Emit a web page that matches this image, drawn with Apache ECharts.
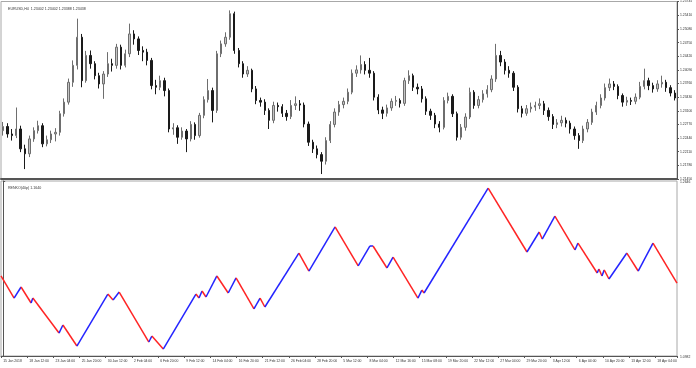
<!DOCTYPE html>
<html><head><meta charset="utf-8">
<script src="https://cdn.jsdelivr.net/npm/echarts@6/dist/echarts.min.js"></script>
<style>html,body{margin:0;padding:0;background:#fff}#c{width:696px;height:368px}</style>
</head><body><div id="c"></div>
<script>
const symbolTitle = 'EURUSD,H4  1.23402 1.23402 1.23388 1.23438';
const renkoTitle = 'RENKO(40p) 1.1640';
const timeLabels = ['15 Jan 2018','18 Jan 12:00','23 Jan 04:00','25 Jan 20:00','30 Jan 12:00','2 Feb 04:00','6 Feb 20:00','9 Feb 12:00','14 Feb 04:00','16 Feb 20:00','21 Feb 12:00','26 Feb 04:00','28 Feb 20:00','5 Mar 12:00','8 Mar 04:00','12 Mar 16:00','15 Mar 08:00','19 Mar 20:00','22 Mar 12:00','27 Mar 04:00','29 Mar 20:00','3 Apr 12:00','6 Apr 04:00','10 Apr 20:00','13 Apr 12:00','18 Apr 04:00'];
const priceTicks = [1.2145,1.2178,1.2211,1.2244,1.2277,1.2310,1.2343,1.2376,1.2409,1.2442,1.2475,1.2508,1.2541,1.25745];
const renkoTicks = [1.0982,1.2646];
// [open, close, low, high]
const ohlc = [
[1.2262,1.2272,1.2250,1.2283],[1.2272,1.2254,1.2245,1.2280],[1.2254,1.2250,1.2238,1.2266],[1.2250,1.2266,1.2244,1.2318],
[1.2266,1.2218,1.2210,1.2274],[1.2218,1.2206,1.2169,1.2228],[1.2206,1.2242,1.2198,1.2250],[1.2242,1.2262,1.2235,1.2270],
[1.2262,1.2274,1.2255,1.2286],[1.2274,1.2230,1.2222,1.2280],[1.2230,1.2240,1.2224,1.2250],[1.2240,1.2254,1.2232,1.2262],
[1.2254,1.2258,1.2236,1.2268],[1.2258,1.2303,1.2250,1.2310],[1.2303,1.2331,1.2296,1.2340],[1.2331,1.2379,1.2325,1.2388],
[1.2379,1.2420,1.2368,1.2432],[1.2420,1.2488,1.2410,1.2533],[1.2488,1.2383,1.2367,1.2496],[1.2383,1.2444,1.2378,1.2455],
[1.2444,1.2424,1.2412,1.2456],[1.2424,1.2395,1.2386,1.2430],[1.2395,1.2375,1.2364,1.2402],[1.2375,1.2399,1.2339,1.2406],
[1.2399,1.2424,1.2392,1.2452],[1.2424,1.2420,1.2405,1.2436],[1.2420,1.2464,1.2412,1.2472],[1.2464,1.2420,1.2410,1.2470],
[1.2420,1.2448,1.2415,1.2458],[1.2448,1.2496,1.2440,1.2521],[1.2496,1.2484,1.2470,1.2505],[1.2484,1.2456,1.2445,1.2490],
[1.2456,1.2452,1.2430,1.2466],[1.2452,1.2432,1.2420,1.2460],[1.2432,1.2371,1.2362,1.2438],[1.2371,1.2367,1.2350,1.2385],
[1.2367,1.2383,1.2360,1.2395],[1.2383,1.2359,1.2345,1.2390],[1.2359,1.2266,1.2258,1.2364],[1.2266,1.2269,1.2252,1.2280],
[1.2269,1.2246,1.2230,1.2275],[1.2246,1.2261,1.2240,1.2270],[1.2261,1.2242,1.2210,1.2266],[1.2242,1.2277,1.2236,1.2285],
[1.2277,1.2250,1.2240,1.2282],[1.2250,1.2299,1.2245,1.2305],[1.2299,1.2337,1.2292,1.2345],[1.2337,1.2359,1.2330,1.2387],
[1.2359,1.2311,1.2282,1.2366],[1.2311,1.2448,1.2305,1.2455],[1.2448,1.2472,1.2440,1.2480],[1.2472,1.2488,1.2465,1.2500],
[1.2488,1.2545,1.2482,1.2553],[1.2545,1.2456,1.2448,1.2550],[1.2456,1.2424,1.2415,1.2462],[1.2424,1.2399,1.2390,1.2430],
[1.2399,1.2408,1.2392,1.2418],[1.2408,1.2363,1.2355,1.2412],[1.2363,1.2335,1.2326,1.2370],[1.2335,1.2331,1.2320,1.2342],
[1.2331,1.2311,1.2300,1.2338],[1.2311,1.2287,1.2266,1.2316],[1.2287,1.2323,1.2280,1.2332],[1.2323,1.2320,1.2308,1.2330],
[1.2320,1.2304,1.2295,1.2326],[1.2304,1.2296,1.2286,1.2312],[1.2296,1.2323,1.2290,1.2336],[1.2323,1.2327,1.2312,1.2345],
[1.2327,1.2324,1.2310,1.2336],[1.2324,1.2278,1.2270,1.2330],[1.2278,1.2234,1.2225,1.2284],[1.2234,1.2218,1.2208,1.2240],
[1.2218,1.2204,1.2195,1.2226],[1.2204,1.2188,1.2157,1.2210],[1.2188,1.2238,1.2180,1.2246],[1.2238,1.2277,1.2232,1.2285],
[1.2277,1.2307,1.2270,1.2316],[1.2307,1.2325,1.2298,1.2334],[1.2325,1.2333,1.2316,1.2342],[1.2333,1.2355,1.2326,1.2364],
[1.2355,1.2401,1.2350,1.2410],[1.2401,1.2409,1.2392,1.2420],[1.2409,1.2422,1.2400,1.2444],[1.2422,1.2408,1.2398,1.2430],
[1.2408,1.2401,1.2390,1.2438],[1.2401,1.2343,1.2335,1.2406],[1.2343,1.2312,1.2302,1.2350],[1.2312,1.2304,1.2290,1.2320],
[1.2304,1.2317,1.2296,1.2325],[1.2317,1.2333,1.2310,1.2340],[1.2333,1.2335,1.2322,1.2346],[1.2335,1.2328,1.2318,1.2340],
[1.2328,1.2383,1.2322,1.2390],[1.2383,1.2395,1.2375,1.2408],[1.2395,1.2367,1.2358,1.2400],[1.2367,1.2363,1.2350,1.2376],
[1.2363,1.2339,1.2330,1.2370],[1.2339,1.2309,1.2300,1.2345],[1.2309,1.2299,1.2288,1.2315],[1.2299,1.2278,1.2268,1.2305],
[1.2278,1.2270,1.2258,1.2285],[1.2270,1.2335,1.2265,1.2343],[1.2335,1.2345,1.2328,1.2354],[1.2345,1.2303,1.2295,1.2350],
[1.2303,1.2246,1.2238,1.2308],[1.2246,1.2270,1.2240,1.2278],[1.2270,1.2295,1.2262,1.2304],[1.2295,1.2355,1.2290,1.2366],
[1.2355,1.2323,1.2315,1.2360],[1.2323,1.2337,1.2316,1.2346],[1.2337,1.2351,1.2330,1.2360],[1.2351,1.2361,1.2342,1.2372],
[1.2361,1.2387,1.2355,1.2396],[1.2387,1.2444,1.2380,1.2472],[1.2444,1.2428,1.2418,1.2455],[1.2428,1.2408,1.2398,1.2435],
[1.2408,1.2401,1.2390,1.2418],[1.2401,1.2367,1.2358,1.2406],[1.2367,1.2315,1.2306,1.2372],[1.2315,1.2304,1.2294,1.2322],
[1.2304,1.2315,1.2298,1.2324],[1.2315,1.2319,1.2306,1.2330],[1.2319,1.2323,1.2310,1.2332],[1.2323,1.2327,1.2314,1.2340],
[1.2327,1.2311,1.2300,1.2334],[1.2311,1.2296,1.2286,1.2318],[1.2296,1.2277,1.2266,1.2302],[1.2277,1.2281,1.2268,1.2290],
[1.2281,1.2287,1.2272,1.2298],[1.2287,1.2280,1.2270,1.2294],[1.2280,1.2266,1.2255,1.2286],[1.2266,1.2250,1.2240,1.2272],
[1.2250,1.2238,1.2218,1.2256],[1.2238,1.2266,1.2232,1.2274],[1.2266,1.2282,1.2258,1.2290],[1.2282,1.2307,1.2276,1.2315],
[1.2307,1.2323,1.2300,1.2332],[1.2323,1.2341,1.2316,1.2350],[1.2341,1.2366,1.2335,1.2376],[1.2366,1.2375,1.2358,1.2388],
[1.2375,1.2369,1.2360,1.2382],[1.2369,1.2347,1.2338,1.2374],[1.2347,1.2331,1.2320,1.2352],[1.2331,1.2335,1.2322,1.2344],
[1.2335,1.2333,1.2324,1.2342],[1.2333,1.2343,1.2326,1.2352],[1.2343,1.2369,1.2338,1.2380],[1.2369,1.2383,1.2362,1.2412],
[1.2383,1.2371,1.2360,1.2390],[1.2371,1.2363,1.2354,1.2378],[1.2363,1.2375,1.2356,1.2384],[1.2375,1.2379,1.2366,1.2395],
[1.2379,1.2366,1.2356,1.2385],[1.2366,1.2353,1.2345,1.2372],[1.2353,1.2341,1.2335,1.2360]
];
// renko turning points: position in bars, value
const renkoX = [-0.5,2.5,4.1,6.4,6.8,12.8,13.7,16.9,24.0,25.2,26.6,33.4,34.1,36.7,44.2,44.9,45.6,46.5,49.0,51.6,53.4,57.5,58.9,60.0,67.8,70.1,76.1,81.4,84.1,84.8,88.0,89.4,95.1,96.0,96.5,111.2,120.1,122.9,123.6,126.5,131.1,131.8,136.2,136.6,137.3,137.8,138.9,143.0,145.6,149.0,154.5];
const renkoY = [1.1743,1.1533,1.1638,1.1486,1.1533,1.1200,1.1277,1.1077,1.1571,1.1514,1.1590,1.1115,1.1172,1.1048,1.1571,1.1533,1.1600,1.1543,1.1743,1.1581,1.1724,1.1429,1.1533,1.1448,1.1961,1.1790,1.2209,1.1838,1.2028,1.2028,1.1819,1.1923,1.1533,1.1609,1.1581,1.2579,1.1971,1.2161,1.2094,1.2313,1.1990,1.2056,1.1771,1.1809,1.1743,1.1800,1.1714,1.1961,1.1790,1.2056,1.1676];

const FONT = 'Liberation Sans';
const cats = ohlc.map((_, i) => String(i));
const txt = {fontSize: 3.4, color: '#333', fontFamily: FONT};

const renkoSeries = [];
for (let k = 0; k < renkoX.length - 1; k++) {
  const up = renkoY[k + 1] >= renkoY[k];
  renkoSeries.push({
    type: 'line', xAxisIndex: 2, yAxisIndex: 1, symbol: 'none', silent: true,
    data: [[renkoX[k], renkoY[k]], [renkoX[k + 1], renkoY[k + 1]]],
    lineStyle: {color: up ? '#2424ff' : '#ff2424', width: 1.5}
  });
}

const chart = echarts.init(document.getElementById('c'), null, {renderer: 'canvas'});
chart.setOption({
  animation: false,
  backgroundColor: '#ffffff',
  textStyle: {fontFamily: FONT},
  title: [
    {text: symbolTitle, left: 3, top: 2, textStyle: Object.assign({fontWeight: 'normal'}, txt, {fontSize: 3.6})},
    {text: renkoTitle, left: 3, top: 181, textStyle: Object.assign({fontWeight: 'normal'}, txt, {fontSize: 3.6})}
  ],
  grid: [
    {left: 1, right: 19, top: 1, height: 178, show: true, borderColor: '#a8a8a8', borderWidth: 1},
    {left: 1, right: 19, top: 181, height: 175, show: true, borderColor: '#a8a8a8', borderWidth: 1}
  ],
  xAxis: [
    {type: 'category', gridIndex: 0, data: cats, boundaryGap: true,
     axisLabel: {show: false}, axisTick: {show: false},
     axisLine: {lineStyle: {color: '#555', width: 2}}},
    {type: 'category', gridIndex: 1, data: cats, boundaryGap: true,
     axisLine: {lineStyle: {color: '#555', width: 1}},
     axisTick: {show: true, interval: 5, length: 2, lineStyle: {color: '#555'}},
     axisLabel: Object.assign({interval: 5, align: 'left', margin: 4,
       formatter: (v, i) => timeLabels[i / 6] || ''}, txt)},
    {type: 'value', gridIndex: 1, min: -0.5, max: 154.5, show: false, position: 'top'}
  ],
  yAxis: [
    {type: 'value', gridIndex: 0, position: 'right', min: priceTicks[0], max: priceTicks[priceTicks.length - 1],
     splitLine: {show: false},
     axisLine: {show: true, lineStyle: {color: '#555'}},
     axisTick: {show: true, length: 2, customValues: priceTicks, lineStyle: {color: '#555'}},
     axisLabel: Object.assign({customValues: priceTicks, margin: 3, formatter: v => v.toFixed(5)}, txt)},
    {type: 'value', gridIndex: 1, position: 'right', min: renkoTicks[0], max: renkoTicks[1],
     splitLine: {show: false},
     axisLine: {show: true, lineStyle: {color: '#555'}},
     axisTick: {show: true, length: 2, customValues: renkoTicks, lineStyle: {color: '#555'}},
     axisLabel: Object.assign({customValues: renkoTicks, margin: 3, verticalAlign: 'top', formatter: v => v.toFixed(4)}, txt)}
  ],
  series: [
    {type: 'candlestick', xAxisIndex: 0, yAxisIndex: 0, data: ohlc, barWidth: '42%', silent: true,
     itemStyle: {color: '#c4c4c4', color0: '#1a1a1a', borderColor: '#6e6e6e', borderColor0: '#1a1a1a', borderWidth: 1}}
  ].concat(renkoSeries)
});
</script>
</body></html>
